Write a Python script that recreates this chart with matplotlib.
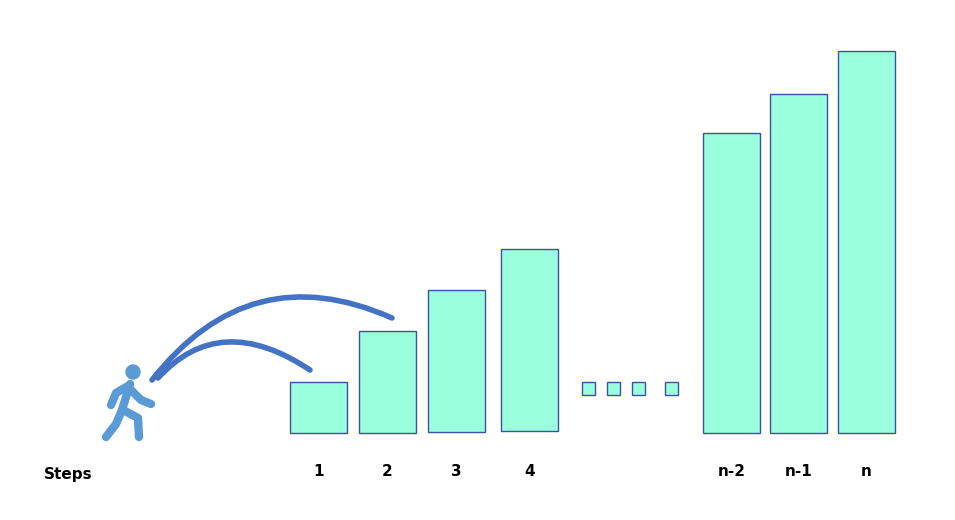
import matplotlib
matplotlib.use("Agg")
import matplotlib.pyplot as plt
from matplotlib.patches import Rectangle, PathPatch, Circle
from matplotlib.path import Path

# Step bars (pixel space: x-left, top, bottom)
bar_labels = ["1", "2", "3", "4", "n-2", "n-1", "n"]
bar_left = [290, 359, 428, 501, 703, 770, 838]
bar_top = [382, 331, 290, 249, 133, 94, 51]
bar_bottom = [433, 433, 432, 431, 433, 433, 433]
bar_width = 57

# Ellipsis squares
dot_left = [582, 607, 632, 665]
dot_top = 382
dot_size = 13

FILL = "#99FFDD"
EDGE = "#3F4FA8"
ARC = "#4472C4"
PERSON = "#5B9BD5"

fig = plt.figure(figsize=(9.55, 5.2), dpi=100)
ax = fig.add_axes([0, 0, 1, 1])
ax.set_xlim(0, 955)
ax.set_ylim(520, 0)
ax.axis("off")

for lab, x, top, bot in zip(bar_labels, bar_left, bar_top, bar_bottom):
    ax.add_patch(Rectangle((x, top), bar_width, bot - top, facecolor=FILL, edgecolor=EDGE, linewidth=1))
    ax.text(x + bar_width / 2, 471, lab, ha="center", va="center", fontsize=11, fontweight="bold")

for x in dot_left:
    ax.add_patch(Rectangle((x, dot_top), dot_size, dot_size, facecolor=FILL, edgecolor=EDGE, linewidth=1))

ax.text(68, 474, "Steps", ha="center", va="center", fontsize=11, fontweight="bold")

# jump arcs
for p0, c, p2 in [((152, 380), (250, 255), (392, 318)), ((158, 378), (220, 310), (310, 370))]:
    path = Path([p0, c, p2], [Path.MOVETO, Path.CURVE3, Path.CURVE3])
    ax.add_patch(PathPatch(path, facecolor="none", edgecolor=ARC, linewidth=4, capstyle="round"))

# walking person
ax.add_patch(Circle((133, 372), 7, color=PERSON))
kw = dict(color=PERSON, linewidth=6, solid_capstyle="round", solid_joinstyle="round")
ax.plot([130, 122], [384, 410], **kw)
ax.plot([128, 116, 111], [386, 393, 405], **kw)
ax.plot([131, 141, 151], [390, 400, 404], **kw)
ax.plot([122, 116, 106], [410, 424, 437], **kw)
ax.plot([123, 138, 139], [410, 418, 437], **kw)

fig.savefig("out.png", dpi=100)
